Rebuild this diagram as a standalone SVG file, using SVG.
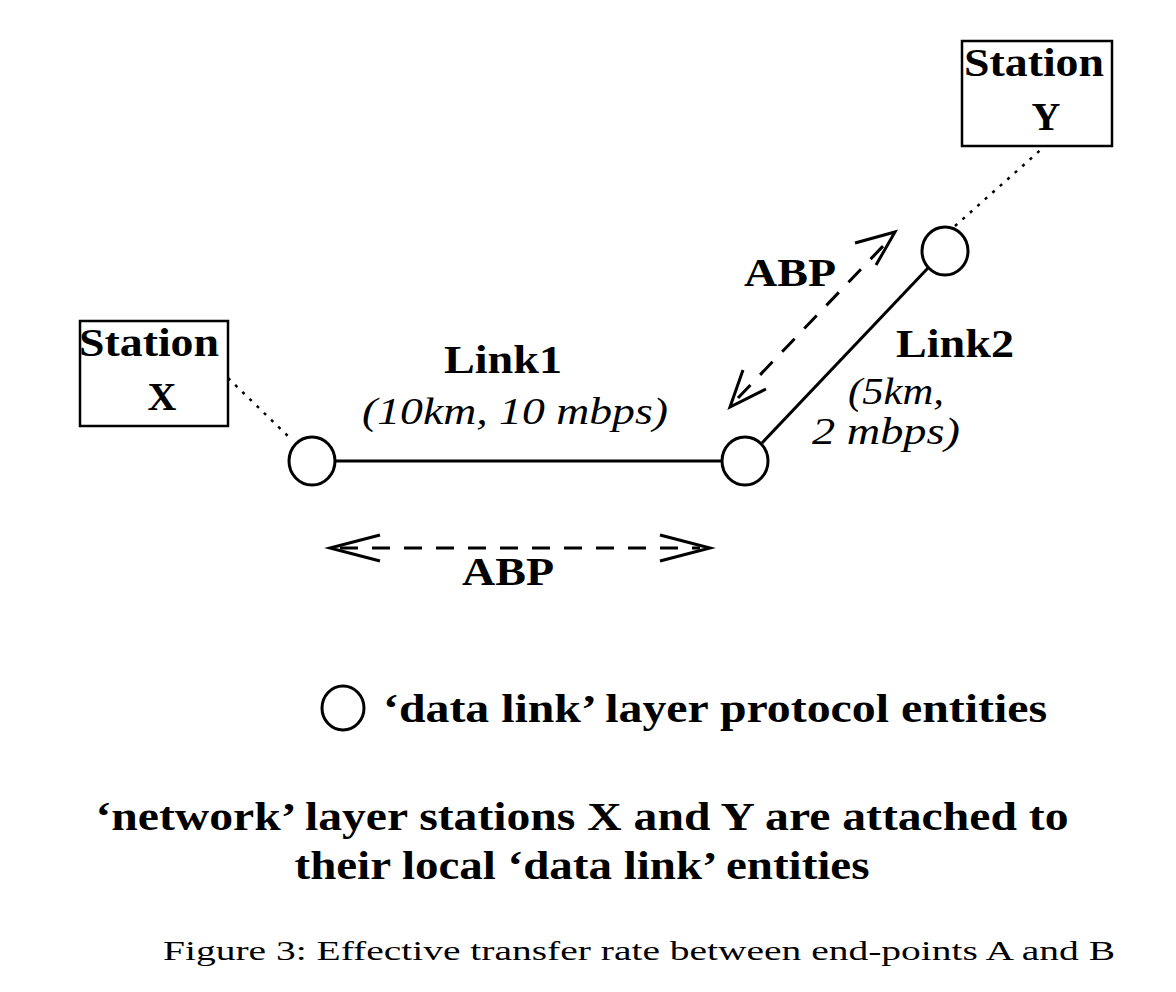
<svg xmlns="http://www.w3.org/2000/svg" width="1176" height="992" viewBox="0 0 1176 992">
<defs>
<style>
.b{font-family:"Liberation Serif",serif;font-weight:bold;font-size:40px;fill:#000}
.i{font-family:"Liberation Serif",serif;font-style:italic;font-size:38px;fill:#000}
.n{fill:#fff;stroke:#000;stroke-width:3}
.s{fill:none;stroke:#000;stroke-width:3}
.d{fill:none;stroke:#000;stroke-width:3;stroke-dasharray:18 14}
.o{fill:none;stroke:#000;stroke-width:2.5;stroke-dasharray:3 7}
</style>
</defs>
<rect width="1176" height="992" fill="#fff"/>
<g id="connectors">
<line class="s" x1="335" y1="461" x2="722" y2="461"/>
<line class="s" x1="762" y1="443" x2="928" y2="268"/>
<line class="o" x1="228" y1="378" x2="292" y2="440"/>
<line class="o" x1="955" y1="226" x2="1045" y2="146"/>
<line class="d" x1="340" y1="548" x2="700" y2="548"/>
<path class="s" d="M380 535 L330 548 L380 561 M660 535 L710 548 L660 561"/>
<line class="d" x1="738" y1="398" x2="885" y2="244"/>
<path class="s" d="M743 370 L730 407 L766 389 M855 243 L895 232 L876 265"/>
</g>
<g id="stationX"><rect x="80" y="321" width="148" height="105" fill="#fff" stroke="#000" stroke-width="2.5"/>
<text class="b" x="149" y="356" text-anchor="middle" textLength="140" lengthAdjust="spacingAndGlyphs">Station</text>
<text class="b" x="162" y="410" text-anchor="middle">X</text></g>
<g id="stationY"><rect x="962" y="41" width="150" height="105" fill="#fff" stroke="#000" stroke-width="2.5"/>
<text class="b" x="1034" y="76" text-anchor="middle" textLength="140" lengthAdjust="spacingAndGlyphs">Station</text>
<text class="b" x="1046" y="130" text-anchor="middle">Y</text></g>
<g id="nodeA"><ellipse class="n" cx="312" cy="461" rx="23" ry="24"/></g>
<g id="nodeB"><ellipse class="n" cx="745" cy="461" rx="23" ry="24"/></g>
<g id="nodeC"><ellipse class="n" cx="945" cy="251" rx="23" ry="24"/></g>
<g id="labels">
<text class="b" x="503" y="373" text-anchor="middle" textLength="118" lengthAdjust="spacingAndGlyphs">Link1</text>
<text class="i" x="515" y="424" text-anchor="middle" textLength="306" lengthAdjust="spacingAndGlyphs">(10km, 10 mbps)</text>
<text class="b" x="790" y="286" text-anchor="middle" textLength="92" lengthAdjust="spacingAndGlyphs">ABP</text>
<text class="b" x="955" y="357" text-anchor="middle" textLength="118" lengthAdjust="spacingAndGlyphs">Link2</text>
<text class="i" x="848" y="404" textLength="96" lengthAdjust="spacingAndGlyphs">(5km,</text>
<text class="i" x="812" y="444" textLength="148" lengthAdjust="spacingAndGlyphs">2 mbps)</text>
<text class="b" x="508" y="585" text-anchor="middle" textLength="92" lengthAdjust="spacingAndGlyphs">ABP</text>
</g>
<g id="legend"><ellipse class="n" cx="343" cy="708" rx="21" ry="22" stroke-width="2.5"/>
<text class="b" x="383" y="722" textLength="664" lengthAdjust="spacingAndGlyphs">‘data link’ layer protocol entities</text></g>
<g id="caption">
<text class="b" x="582" y="830" text-anchor="middle" textLength="973" lengthAdjust="spacingAndGlyphs">‘network’ layer stations X and Y  are attached to</text>
<text class="b" x="582" y="879" text-anchor="middle" textLength="575" lengthAdjust="spacingAndGlyphs">their local ‘data link’ entities</text>
<text x="163" y="960" font-family="Liberation Serif,serif" font-size="28" textLength="952" lengthAdjust="spacingAndGlyphs">Figure 3: Effective transfer rate between end-points A and B</text>
</g>
</svg>
